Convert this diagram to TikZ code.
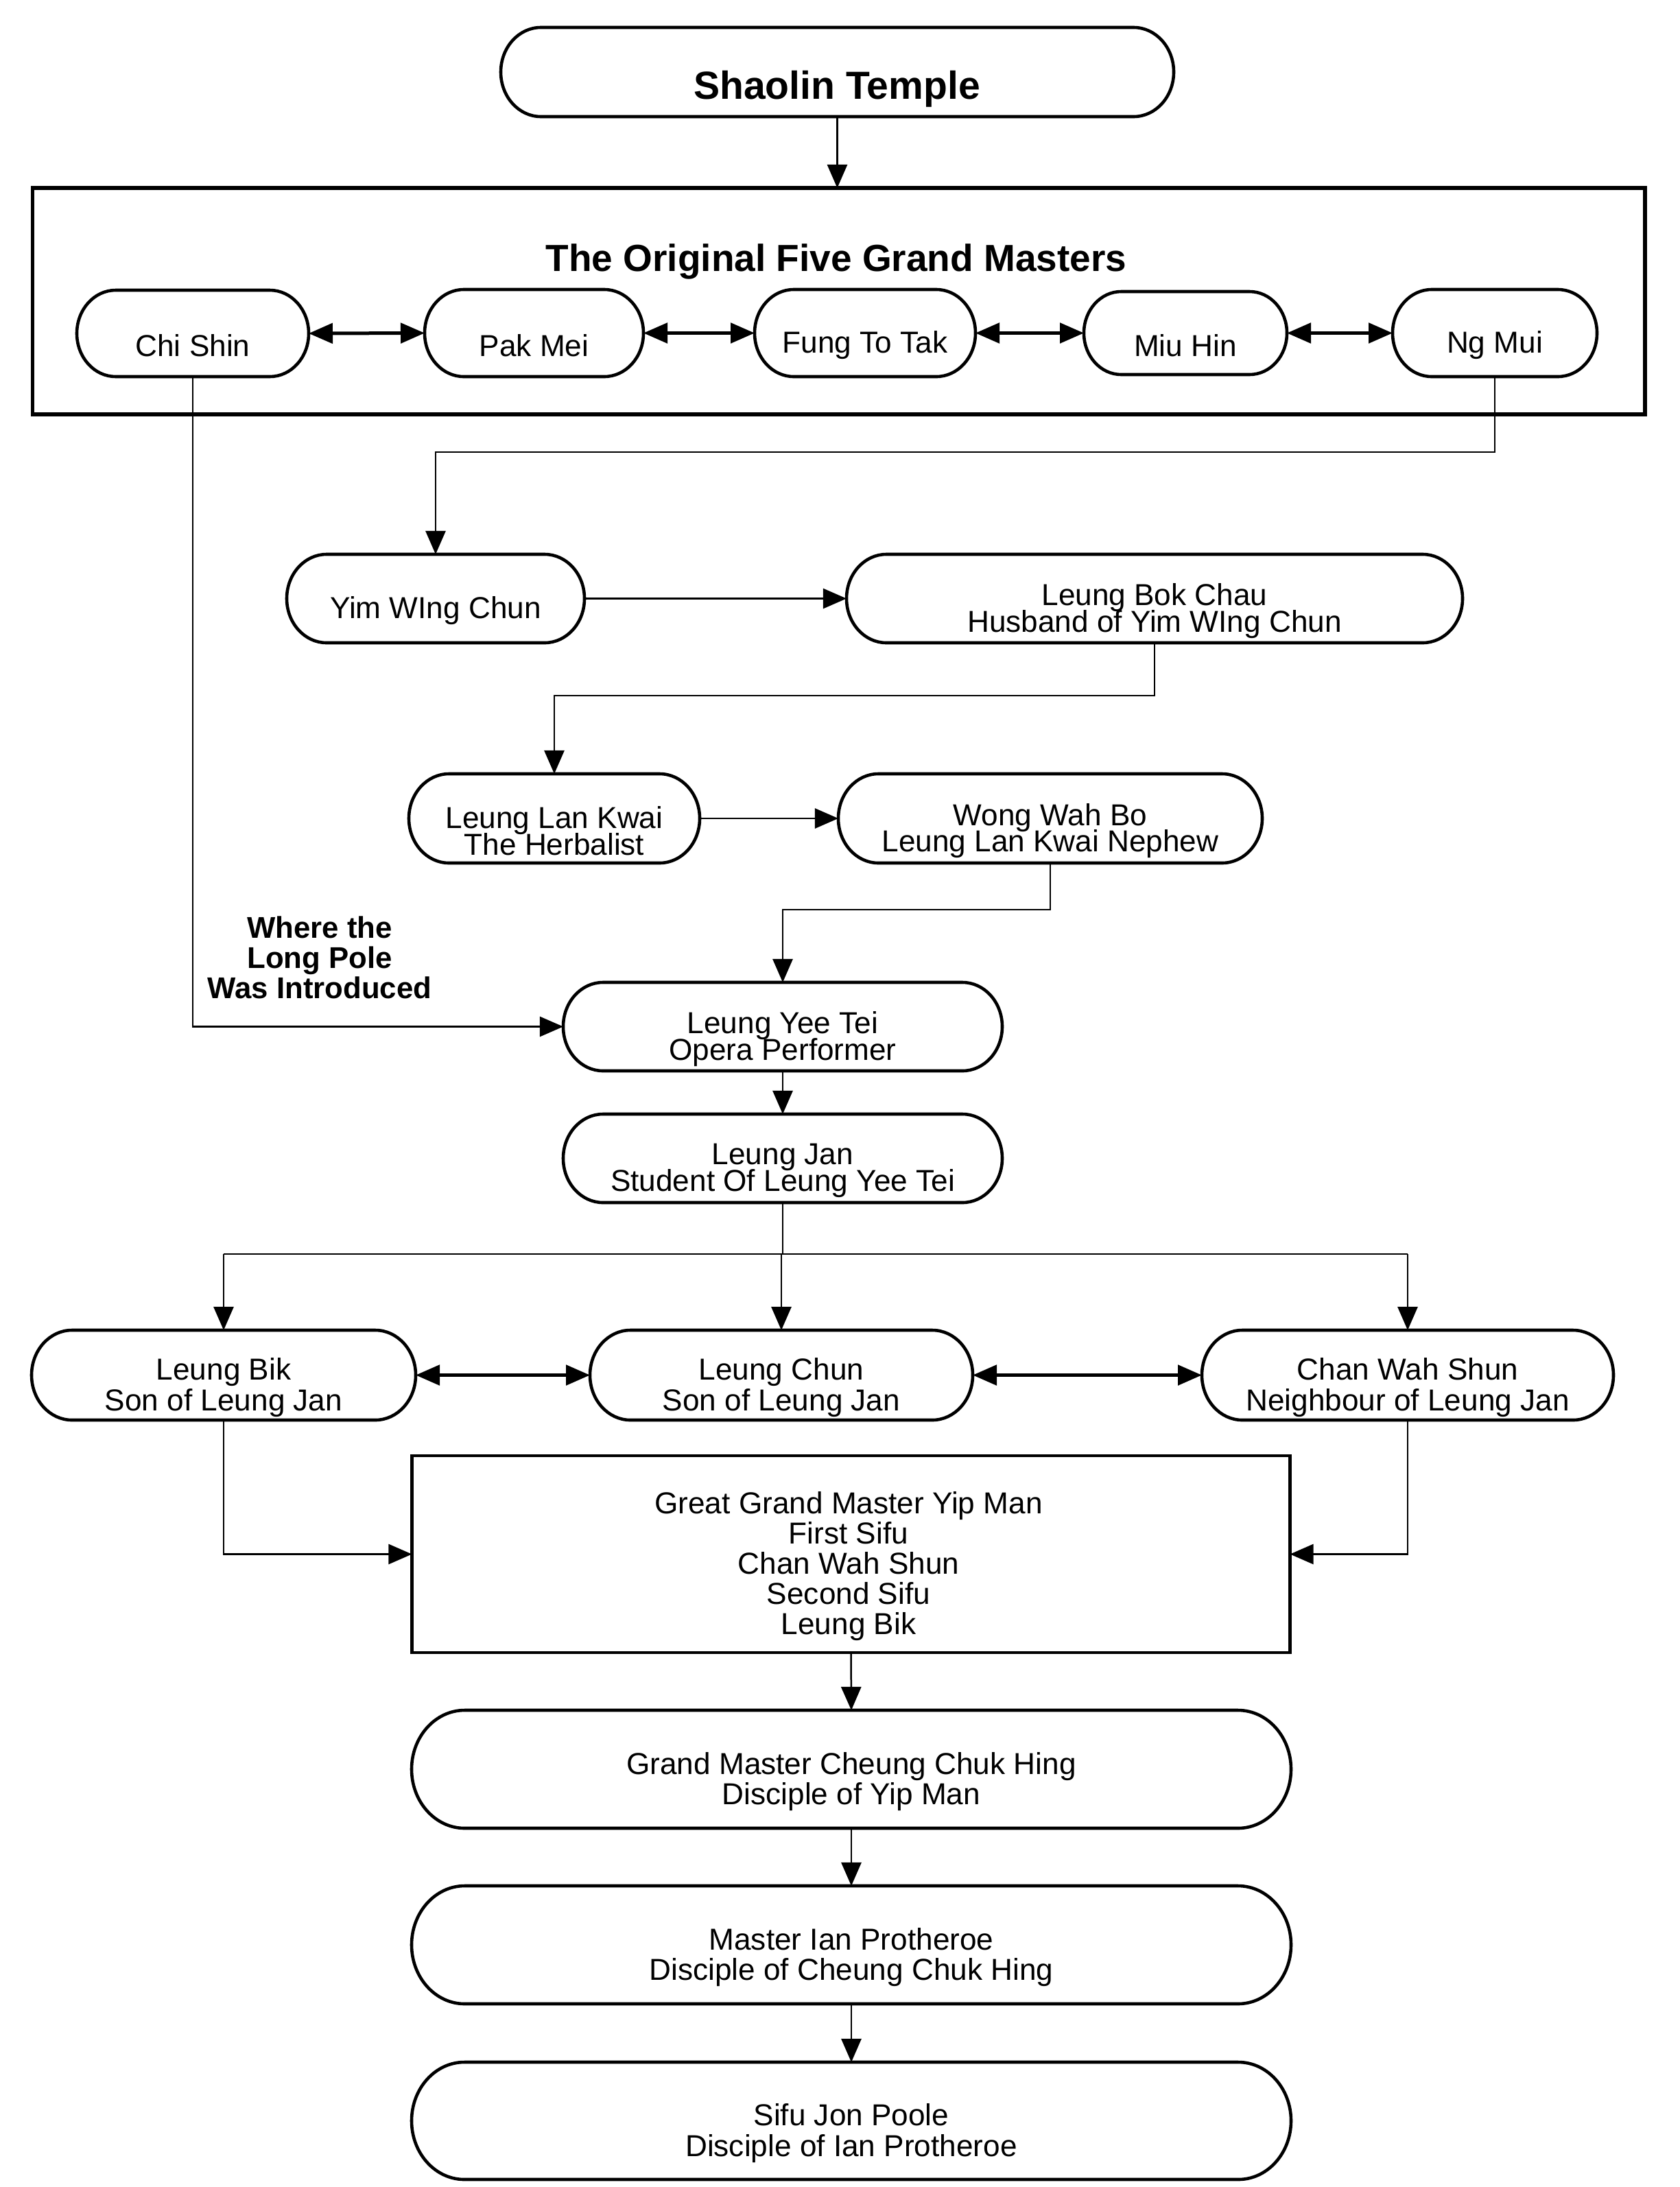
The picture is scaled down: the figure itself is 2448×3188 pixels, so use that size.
\documentclass[tikz,border=0pt]{standalone}
\usepackage{fontspec}
\setmainfont{Liberation Sans}
\usetikzlibrary{arrows.meta}
\lineskiplimit=-100pt
\tikzset{
  capline/.style={line width=1.1pt},
  bigline/.style={line width=1.25pt},
  shapebox/.style={rectangle, inner sep=0pt, outer sep=0pt, draw=none},
  txa/.style={align=center, inner sep=0pt, font=\fontsize{10.6}{9.3}\selectfont},
  txb/.style={align=center, inner sep=0pt, font=\fontsize{10.6}{10.6}\selectfont},
  arr/.style={line width=0.6pt, -{Triangle[length=8.2pt,width=7pt]}},
  dbl/.style={line width=1.2pt, {Triangle[length=8.4pt,width=7pt]}-{Triangle[length=8.4pt,width=7pt]}},
}
% #1 name, #2 x1, #3 y1, #4 x2, #5 y2, #6 text style, #7 text
\newcommand\capsule[7]{%
  \pgfmathsetmacro\cpRx{0.45*(#5-#3)}%
  \pgfmathsetmacro\cpRy{(#5-#3)/2}%
  \pgfmathsetmacro\cpYm{(#3+#5)/2}%
  \pgfmathsetmacro\cpXm{(#2+#4)/2}%
  \pgfmathsetmacro\cpKx{0.5523*\cpRx}%
  \pgfmathsetmacro\cpKy{0.5523*\cpRy}%
  \pgfmathsetmacro\cpW{(#4-#2)*0.24}%
  \pgfmathsetmacro\cpH{(#5-#3)*0.24}%
  \pgfmathsetmacro\cpTy{\cpYm+18}%
  \draw[capline] ({#2+\cpRx},#3) -- ({#4-\cpRx},#3)
     .. controls ({#4-\cpRx+\cpKx},#3) and (#4,{\cpYm-\cpKy}) .. (#4,\cpYm)
     .. controls (#4,{\cpYm+\cpKy}) and ({#4-\cpRx+\cpKx},#5) .. ({#4-\cpRx},#5)
     -- ({#2+\cpRx},#5)
     .. controls ({#2+\cpRx-\cpKx},#5) and (#2,{\cpYm+\cpKy}) .. (#2,\cpYm)
     .. controls (#2,{\cpYm-\cpKy}) and ({#2+\cpRx-\cpKx},#3) .. cycle;
  \node[shapebox, minimum width=\cpW pt, minimum height=\cpH pt] (#1) at (\cpXm,\cpYm) {};
  \node[#6] (#1-t) at (\cpXm,\cpTy) {#7};
}
\begin{document}
\begin{tikzpicture}[x=0.24pt,y=-0.24pt]
\fill[white] (0,0) rectangle (2448,3188);
\useasboundingbox (0,0) rectangle (2448,3188);

% top
\capsule{shaolin}{730}{40}{1711}{170}{txa}{}
\node[inner sep=0pt, font=\fontsize{13.7}{16}\selectfont\bfseries] (shaolintitle) at (1220,130) {Shaolin Temple};

% five grand masters box
\node[shapebox, draw=black, bigline, minimum width=564.2pt, minimum height=79.2pt] (five) at (1222.5,439) {};
\node[inner sep=0pt, font=\fontsize{13.2}{15}\selectfont\bfseries] (fivetitle) at (1219,381) {The Original Five Grand Masters};

\capsule{chishin}{112}{423}{450}{549}{txa}{Chi Shin}
\capsule{pakmei}{619}{422}{938}{549}{txa}{Pak Mei}
\capsule{fung}{1100}{422}{1422}{549}{txa}{Fung To Tak}
\capsule{miuhin}{1580}{425}{1876}{546}{txa}{Miu Hin}
\capsule{ngmui}{2030}{422}{2328}{549}{txa}{Ng Mui}

\capsule{yim}{418}{808}{852}{937}{txa}{Yim WIng Chun}
\capsule{bok}{1234}{808}{2132}{937}{txa}{Leung Bok Chau\\Husband of Yim WIng Chun}
\capsule{lankwai}{596}{1128}{1020}{1258}{txa}{Leung Lan Kwai\\The Herbalist}
\capsule{wong}{1222}{1128}{1840}{1258}{txa}{Wong Wah Bo\\Leung Lan Kwai Nephew}
\capsule{yeetei}{821}{1432}{1461}{1561}{txa}{Leung Yee Tei\\Opera Performer}
\capsule{jan}{821}{1624}{1461}{1753}{txa}{Leung Jan\\Student Of Leung Yee Tei}

\capsule{bik}{46}{1939}{606}{2070}{txb}{Leung Bik\\Son of Leung Jan}
\capsule{chun}{860}{1939}{1418}{2070}{txb}{Leung Chun\\Son of Leung Jan}
\capsule{chan}{1752}{1939}{2352}{2070}{txb}{Chan Wah Shun\\Neighbour of Leung Jan}

\node[shapebox, draw=black, line width=1.15pt, minimum width=307.2pt, minimum height=68.9pt] (yip) at (1240.5,2265.5) {};
\node[txb] (yiptext) at (1237,2283) {Great Grand Master Yip Man\\First Sifu\\Chan Wah Shun\\Second Sifu\\Leung Bik};

\capsule{cheung}{600}{2493}{1882}{2665}{txb}{Grand Master Cheung Chuk Hing\\Disciple of Yip Man}
\capsule{ian}{600}{2749}{1882}{2921}{txb}{Master Ian Protheroe\\Disciple of Cheung Chuk Hing}
\capsule{jon}{600}{3006}{1882}{3177}{txb}{Sifu Jon Poole\\Disciple of Ian Protheroe}

\node[align=center, inner sep=0pt, font=\fontsize{10.5}{10.6}\selectfont\bfseries] (pole) at (466,1396) {Where the\\Long Pole\\Was Introduced};

% junction coordinates
\coordinate (j1) at (0,659);
\coordinate (j2) at (0,1014);
\coordinate (j3) at (0,1326);
\coordinate (j4) at (0,1828);

% connectors
\draw[arr] (shaolin.south) -- (shaolin.south |- five.north);
\draw[dbl] (chishin.east) -- (pakmei.west);
\draw[dbl] (pakmei.east) -- (fung.west);
\draw[dbl] (fung.east) -- (miuhin.west);
\draw[dbl] (miuhin.east) -- (ngmui.west);

\draw[arr] (ngmui.south) -- (ngmui.south |- j1) -| (yim.north);
\draw[arr] (yim.east) -- (bok.west);
\draw[arr] (bok.south) -- (bok.south |- j2) -| (lankwai.north);
\draw[arr] (lankwai.east) -- (wong.west);
\draw[arr] (wong.south) -- (wong.south |- j3) -| (yeetei.north);
\draw[arr] (chishin.south) |- (yeetei.west);
\draw[arr] (yeetei.south) -- (jan.north);

\draw[line width=0.6pt] (jan.south) -- (jan.south |- j4);
\draw[line width=0.6pt] (bik.north |- j4) -- (chan.north |- j4);
\draw[arr] (bik.north |- j4) -- (bik.north);
\draw[arr] (chun.north |- j4) -- (chun.north);
\draw[arr] (chan.north |- j4) -- (chan.north);

\draw[dbl] (bik.east) -- (chun.west);
\draw[dbl] (chun.east) -- (chan.west);

\draw[arr] (bik.south) |- (yip.west);
\draw[arr] (chan.south) |- (yip.east);
\draw[arr] (yip.south) -- (cheung.north);
\draw[arr] (cheung.south) -- (ian.north);
\draw[arr] (ian.south) -- (jon.north);
\end{tikzpicture}
\end{document}
